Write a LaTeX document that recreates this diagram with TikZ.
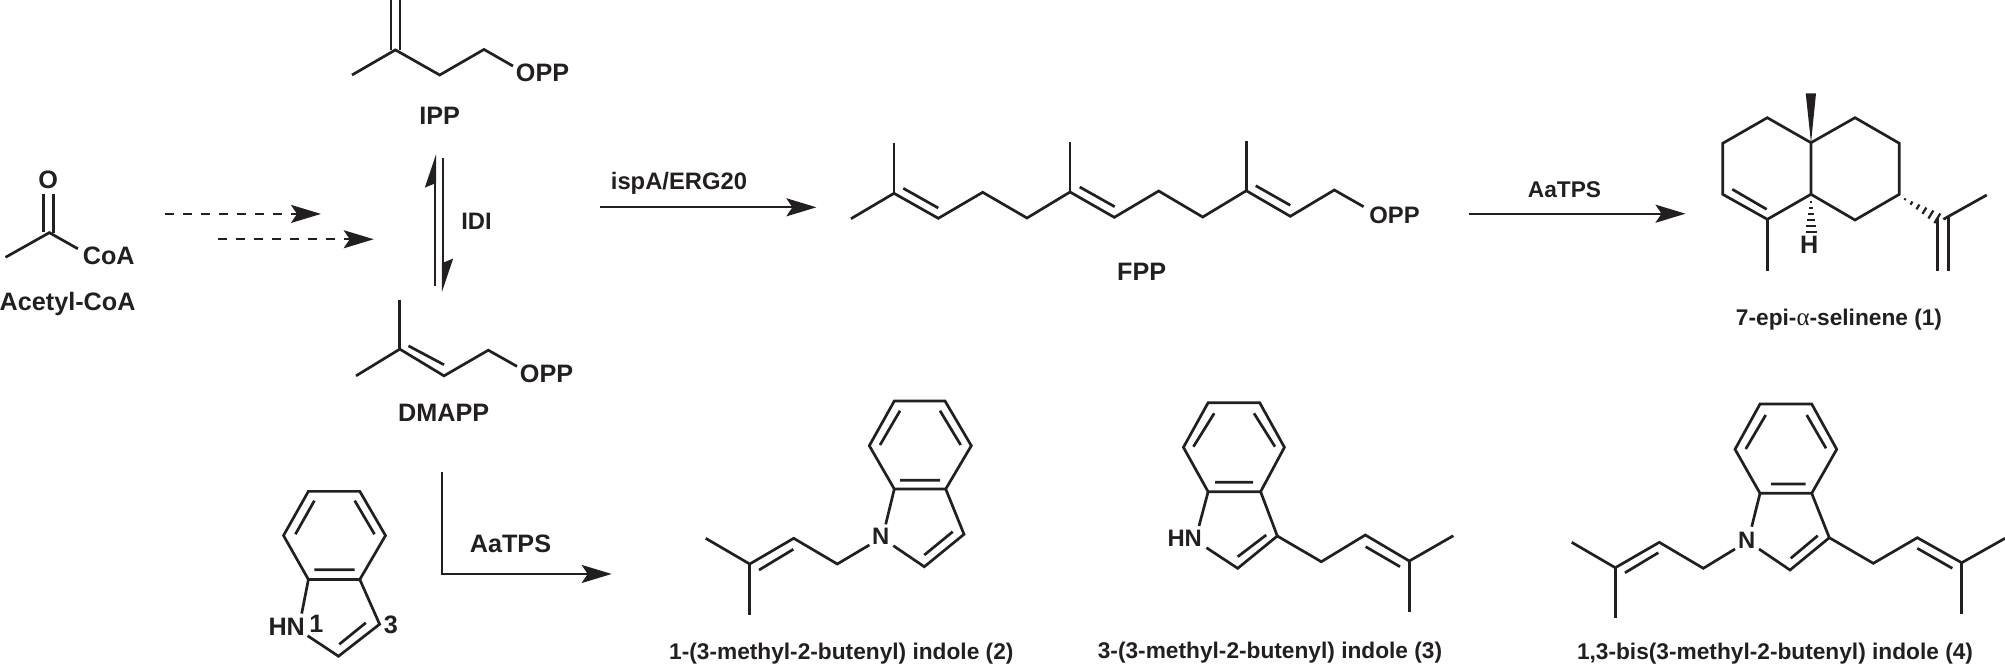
\documentclass[tikz,border=0pt]{standalone}
\usepackage{fontspec}
\setmainfont{Liberation Sans}
\newfontfamily\greekfont{Liberation Serif}
\usetikzlibrary{arrows.meta}
\definecolor{ink}{HTML}{231F20}
\tikzset{
  bond/.style={draw=ink,line width=1.35pt,line join=miter,line cap=butt},
  lab/.style={text=ink,font=\bfseries\fontsize{11.9}{13}\selectfont,inner sep=0pt},
  labbig/.style={lab,font=\bfseries\fontsize{12.6}{13}\selectfont},
  labsmall/.style={lab,font=\bfseries\fontsize{11.35}{13}\selectfont},
  rxn/.style={draw=ink,line width=1.1pt,-{Stealth[length=15pt,width=9pt,inset=3pt]}},
  rxndash/.style={rxn,dash pattern=on 4.5pt off 4.5pt},
  halfarrow/.style={draw=ink,line width=1.1pt,-{Stealth[length=15pt,width=10pt,inset=2pt,left]}},
}
\begin{document}
\begin{tikzpicture}[x=0.5pt,y=-0.5pt]
\useasboundingbox (0,0) rectangle (2005,666);
\begin{scope}[yscale=1.0775]
% ---- Acetyl-CoA
\draw[bond] (5.5,238.8) -- (49.4,215.9) -- (77.9,230.9);
\draw[bond] (43.7,215) -- (43.7,180) (53.7,215.9) -- (53.7,180);
\node[labbig] (oxo) at (48.2,167) {O};
\node[labbig] (coa) at (108.7,237) {CoA};
\node[labbig] (acetyl) at (67.6,282) {Acetyl-CoA};
% ---- dashed arrows
\coordinate (d1a) at (165,198.5); \coordinate (d1b) at (321,198.5);
\coordinate (d2a) at (217.5,222); \coordinate (d2b) at (373.7,222);
\draw[rxndash] (d1a) -- (d1b);
\draw[rxndash] (d2a) -- (d2b);
% ---- IPP
\draw[bond] (352,69.6) -- (395.4,46.3) -- (439.7,69.6) -- (484,45.9) -- (513,61.3);
\draw[bond] (391,46) -- (391,0) (400,46) -- (400,0);
\node[labbig] (opp1) at (542.5,68) {OPP};
\node[labbig] (ipp) at (439.7,107.5) {IPP};
% ---- IDI equilibrium
\coordinate (idi1a) at (435,265.7); \coordinate (idi1b) at (435,143);
\coordinate (idi2a) at (443,147); \coordinate (idi2b) at (443,271);
\draw[halfarrow] (idi1a) -- (idi1b);
\draw[halfarrow] (idi2a) -- (idi2b);
\node[lab] (idi) at (476.5,205.6) {IDI};
% ---- DMAPP
\draw[bond] (399.8,278) -- (399.8,324);
\draw[bond] (356,348.8) -- (399.8,324) -- (444,348.8) -- (488.3,325) -- (517,340);
\draw[bond] (408.5,321) -- (444,338.5);
\node[labbig] (opp2) at (546.5,346.8) {OPP};
\node[labbig] (dmapp) at (443.7,382.8) {DMAPP};
% ---- L arrow
\coordinate (la) at (442,437.7); \coordinate (lb) at (442,532.6); \coordinate (lc) at (611.7,532.6);
\draw[rxn] (la) -- (lb) -- (lc);
\node[labbig] (aatps1) at (510.5,505) {AaTPS};
% ---- indole
\draw[bond] (308.4,456) -- (359.8,456) -- (385.5,497) -- (359.8,537.8) -- (308.4,537.8) -- (283.5,497) -- cycle;
\draw[bond] (314.4,464.6) -- (295.4,495.8) (354.7,464.6) -- (374.5,495.8) (314.4,528.7) -- (354.7,528.7);
\draw[bond] (308.4,537.8) -- (301.7,569.4);
\draw[bond] (359.8,537.8) -- (379.6,579.3) -- (338.5,609) -- (307.6,590);
\draw[bond] (339.3,597.9) -- (365.8,578);
\node[labbig] (hn1) at (286.7,581.6) {HN};
\node[labbig] (n1) at (316.3,579.3) {1};
\node[labbig] (n3) at (391,580) {3};
\end{scope}
% ---- ispA arrow
\coordinate (ia) at (600,207.3); \coordinate (ib) at (816.4,207.3);
\draw[rxn] (ia) -- (ib);
\node[lab] (ispa) at (679,183.3) {ispA/ERG20};
% ---- FPP
\draw[bond] (851,218.7) -- (894,193.3) -- (938.3,218.3) -- (982.7,192.3) -- (1027,218) -- (1070,192) -- (1114.3,217.3) -- (1158.7,191) -- (1202.7,217) -- (1246.3,190.7) -- (1290.3,216.3) -- (1334.3,190) -- (1363.6,206.7);
\draw[bond] (894,193.3) -- (894,143.3) (1070,192) -- (1070,141.7) (1246.3,190.7) -- (1246.3,140.7);
\draw[bond] (903.3,188.3) -- (938.3,208) (1079.7,187) -- (1114.7,206.7) (1255.7,185.7) -- (1290.3,205.3);
\node[lab] (opp3) at (1394.5,215) {OPP};
\node[labbig] (fpp) at (1141.7,272) {FPP};
% ---- AaTPS arrow
\coordinate (aa) at (1469,213.7); \coordinate (ab) at (1685.5,213.7);
\draw[rxn] (aa) -- (ab);
\node[labsmall] (aatps2) at (1564.5,189.3) {AaTPS};
% ---- selinene
\draw[bond] (1811,142.7) -- (1767.3,117.7) -- (1722.7,143.3) -- (1722.7,194.3) -- (1767.3,219.3) -- (1811,194.3) -- cycle;
\draw[bond] (1811,142.7) -- (1855,117.7) -- (1899.3,143.3) -- (1899.3,194.3) -- (1855,220) -- (1811,194.3);
\draw[bond] (1732.3,189.3) -- (1766.7,209.3);
\draw[bond] (1767.3,219.3) -- (1767.3,270.7);
\fill[ink] (1811,143) -- (1805.7,93.3) -- (1816,93.3) -- cycle;
\foreach \t in {0,0.2,...,1.01}{
  \draw[ink,line width=1.1pt] ({1811-(1+4.5*\t)},{201.7+30*\t}) -- ({1811+(1+4.5*\t)},{201.7+30*\t});
  \draw[ink,line width=1.1pt] ({1905+32.3*\t-(0.5+2.5*\t)},{199.3+19*\t+(0.8+4*\t)}) -- ({1905+32.3*\t+(0.5+2.5*\t)},{199.3+19*\t-(0.8+4*\t)});
}
\node[labbig] (hatom) at (1809.3,245) {H};
\draw[bond] (1943.3,219.3) -- (1986.7,195);
\draw[bond] (1937.7,218) -- (1937.7,270.7) (1948.3,217) -- (1948.3,270.7);
\node[labsmall] (sel) at (1839,319.3) {7-epi-{\mdseries\greekfont\fontsize{12.5}{13}\selectfont α}-selinene (1)};
% ---- compound 2
\draw[bond] (894.3,401) -- (945,401) -- (971.3,445.7) -- (945.7,489) -- (894.3,489) -- (869.3,445.7) -- cycle;
\draw[bond] (900,410.7) -- (880,445) (940,410.7) -- (960.7,445) (900,480.3) -- (940,480.3);
\draw[bond] (894.3,489) -- (885.7,524.3);
\draw[bond] (945.7,489) -- (964,534.3) -- (924.3,566.7) -- (893.3,545.7);
\draw[bond] (924.3,555) -- (952.7,531.7);
\node[lab] (n2) at (880.7,536) {N};
\draw[bond] (869.3,545) -- (837.3,564) -- (793.7,538.3) -- (749.7,564) -- (705.7,538.3);
\draw[bond] (749.7,564) -- (749.7,615);
\draw[bond] (793.3,549.3) -- (759,570);
\node[labsmall] (c2) at (841.3,653.3) {1-(3-methyl-2-butenyl) indole (2)};
% ---- compound 3
\draw[bond] (1208.1,402.7) -- (1259.7,402.7) -- (1284.4,447.3) -- (1260.6,491.7) -- (1208.1,491.7) -- (1183.4,447.3) -- cycle;
\draw[bond] (1214.2,413.3) -- (1193.4,446.7) (1254,413.3) -- (1275,446.7) (1215,482.3) -- (1253.2,482.3);
\draw[bond] (1208.1,491.7) -- (1199,526);
\draw[bond] (1260.6,491.7) -- (1277.3,536) -- (1237.7,568.3) -- (1206.4,547.7);
\draw[bond] (1237.7,556.7) -- (1266.2,535);
\node[lab] (hn3) at (1184.7,538) {HN};
\draw[bond] (1277.3,536) -- (1321.3,561.7) -- (1365.3,535) -- (1409.3,561) -- (1453.3,535.7);
\draw[bond] (1409.3,561) -- (1409.3,611.7);
\draw[bond] (1365.7,546.7) -- (1400,566.7);
\node[labsmall] (c3) at (1270,652.5) {3-(3-methyl-2-butenyl) indole (3)};
% ---- compound 4
\draw[bond] (1760,404) -- (1811.7,404) -- (1836.7,449.3) -- (1811.7,493.3) -- (1760,493.3) -- (1735,449.3) -- cycle;
\draw[bond] (1765.7,415) -- (1745.7,449) (1806.7,415) -- (1826,448.3) (1771,484) -- (1805.7,484);
\draw[bond] (1760,493.3) -- (1751.7,526.7);
\draw[bond] (1811.7,493.3) -- (1829.3,537.7) -- (1790,570) -- (1759,549);
\draw[bond] (1790.7,558.3) -- (1817.7,535.7);
\node[lab] (n4) at (1746.7,540.3) {N};
\draw[bond] (1735,549) -- (1703.3,568.3) -- (1659.3,542.3) -- (1615.3,567.7) -- (1571.7,542.3);
\draw[bond] (1615.3,567.7) -- (1615.3,617.7);
\draw[bond] (1658.3,552.7) -- (1625,572.7);
\draw[bond] (1829.3,537.7) -- (1873.3,563.3) -- (1917.3,537.7) -- (1961.7,562.7) -- (2005,538.3);
\draw[bond] (1961.7,562.7) -- (1961.7,614.3);
\draw[bond] (1917.3,548.3) -- (1952.3,568.3);
\node[labsmall] (c4) at (1775,653.3) {1,3-bis(3-methyl-2-butenyl) indole (4)};
\end{tikzpicture}
\end{document}
